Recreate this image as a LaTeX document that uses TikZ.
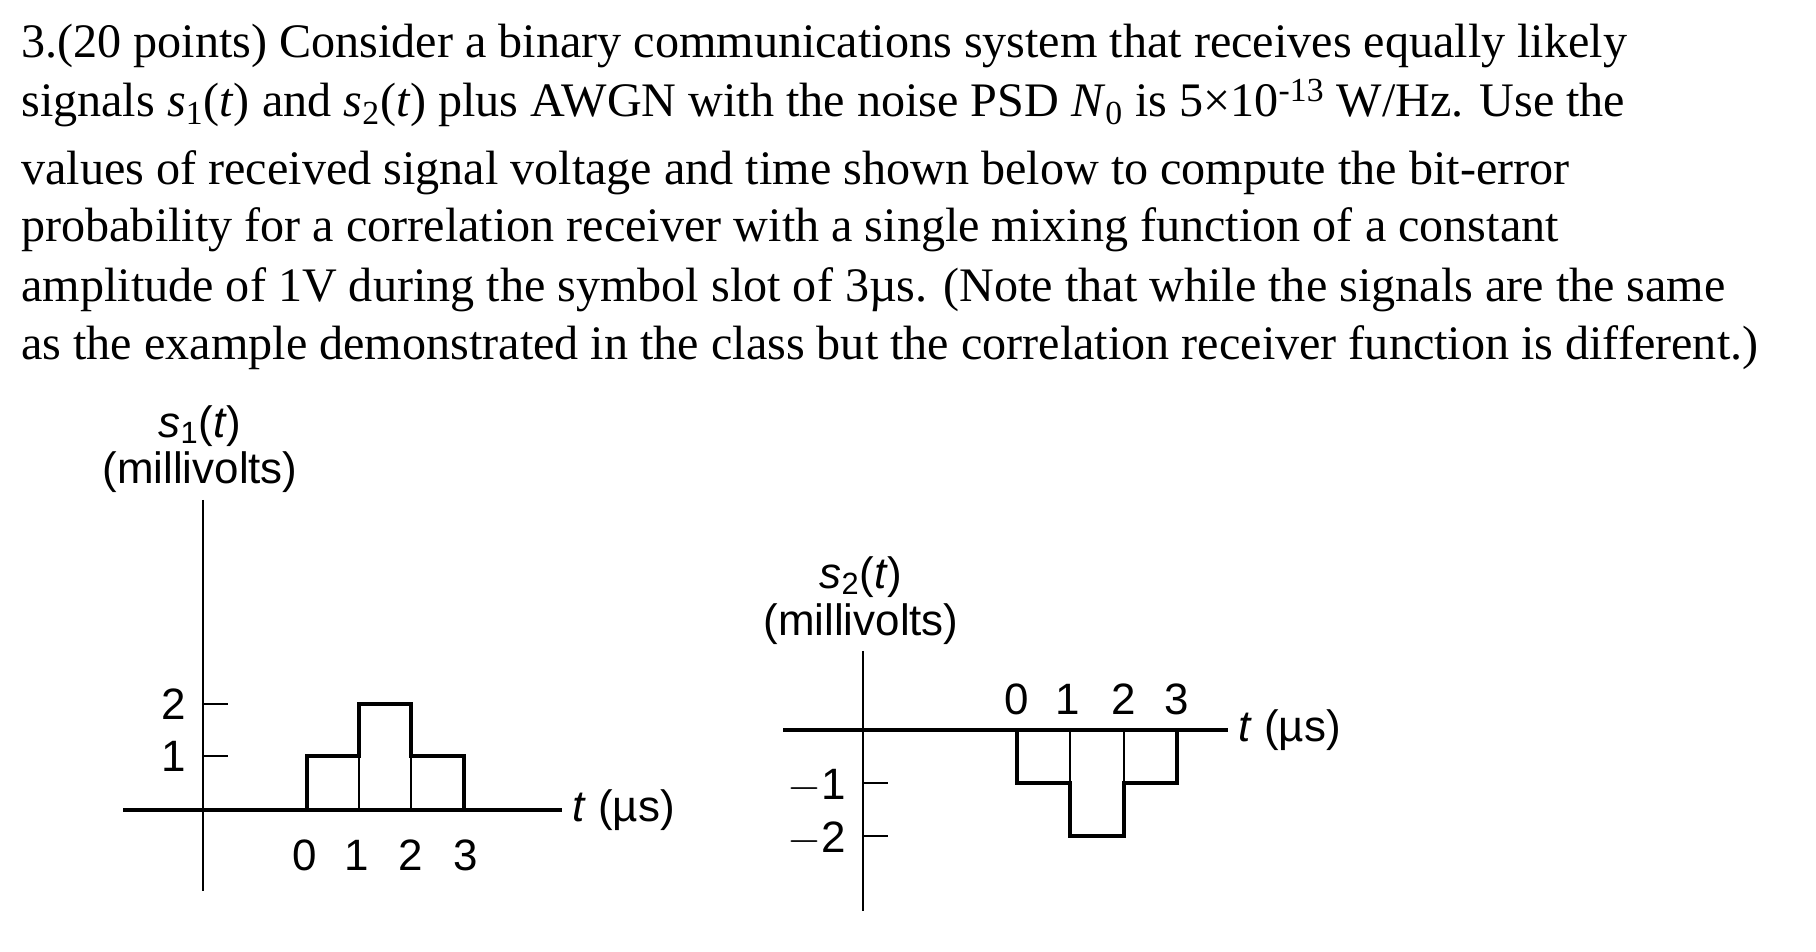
\documentclass[tikz,border=0pt]{standalone}
\usepackage{fontspec}
\setmainfont{Liberation Serif}
\newfontfamily\gfont{Liberation Sans}
\begin{document}
\begin{tikzpicture}[x=0.02cm,y=-0.02cm,
  txt/.style={anchor=base west,inner sep=0,font=\fontsize{27.4}{30}\selectfont},
  lab/.style={inner sep=0,font=\gfont\fontsize{25}{28}\selectfont},
  ax/.style={line width=1.2pt},
  haxis/.style={line width=2.2pt},
  sig/.style={line width=2.6pt},
  thin/.style={line width=0.8pt}]
\useasboundingbox (0,0) rectangle (1816,952);
\newcommand\ms[1]{\textit{s}\textsubscript{#1}(\textit{t})}
\node[txt] (l1) at (21,58) {3.(20 points) Consider a binary communications system that receives equally likely};
\node[txt] (l2) at (21,117) {signals \ms{1} and \ms{2} plus AWGN with the noise PSD \textit{N}\textsubscript{0} is 5×10\textsuperscript{-13} W/Hz. Use the};
\node[txt] (l3) at (21,185) {values of received signal voltage and time shown below to compute the bit-error};
\node[txt] (l4) at (21,242) {probability for a correlation receiver with a single mixing function of a constant};
\node[txt] (l5) at (21,302) {amplitude of 1V during the symbol slot of 3µs. (Note that while the signals are the same};
\node[txt] (l6) at (21,360) {as the example demonstrated in the class but the correlation receiver function is different.)};
% s1 graph
\node[lab] (s1n) at (200,426) {\textit{s}\textsubscript{1}(\textit{t})};
\node[lab] (s1m) at (200,472) {(millivolts)};
\coordinate (a1t) at (203,500); \coordinate (a1b) at (203,891);
\coordinate (h1l) at (123,810); \coordinate (h1r) at (562,810);
\draw[ax] (a1t) -- (a1b);
\draw[haxis] (h1l) -- (h1r);
\draw[thin] (203,756) -- (228,756) (203,704) -- (228,704);
\node[lab,anchor=east] (y11) at (186,756) {1};
\node[lab,anchor=east] (y12) at (186,704) {2};
\draw[thin] (359,810) -- (359,756) (411,810) -- (411,756);
\draw[sig] (307,810) -- (307,756) -- (359,756) -- (359,704) -- (411,704) -- (411,756) -- (464,756) -- (464,810);
\node[lab] (x10) at (305,855) {0};
\node[lab] (x11) at (357,855) {1};
\node[lab] (x12) at (411,855) {2};
\node[lab] (x13) at (466,855) {3};
\node[lab,anchor=west] (t1) at (572,810) {\textit{t} (µs)};
% s2 graph
\node[lab] (s2n) at (861,577) {\textit{s}\textsubscript{2}(\textit{t})};
\node[lab] (s2m) at (861,624) {(millivolts)};
\coordinate (a2t) at (863,651); \coordinate (a2b) at (863,911);
\coordinate (h2l) at (783,730); \coordinate (h2r) at (1228,730);
\draw[ax] (a2t) -- (a2b);
\draw[haxis] (h2l) -- (h2r);
\draw[thin] (863,783) -- (888,783) (863,836) -- (888,836);
\node[lab,anchor=east] (y21) at (846,786) {$-$1};
\node[lab,anchor=east] (y22) at (846,839) {$-$2};
\draw[thin] (1070,730) -- (1070,783) (1124,730) -- (1124,783);
\draw[sig] (1017,730) -- (1017,783) -- (1070,783) -- (1070,836) -- (1124,836) -- (1124,783) -- (1177,783) -- (1177,730);
\node[lab] (x20) at (1017,699) {0};
\node[lab] (x21) at (1068,699) {1};
\node[lab] (x22) at (1124,699) {2};
\node[lab] (x23) at (1177,699) {3};
\node[lab,anchor=west] (t2) at (1238,730) {\textit{t} (µs)};
\end{tikzpicture}
\end{document}
